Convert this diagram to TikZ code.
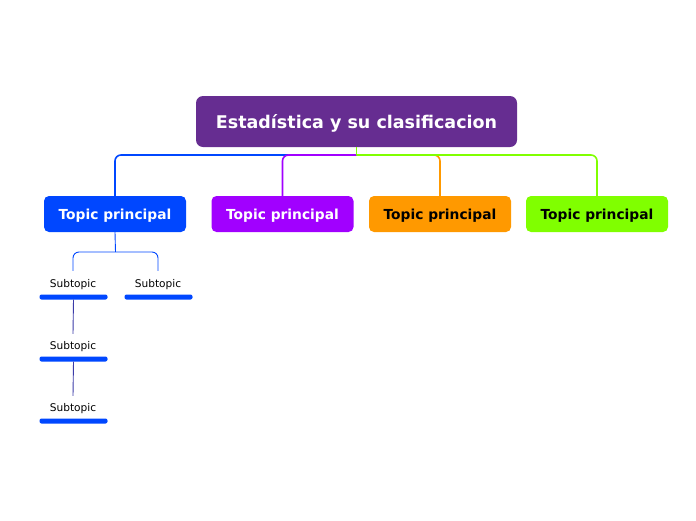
\documentclass[tikz,border=0pt]{standalone}
\usepackage{fontspec}
\setmainfont{DejaVu Sans}
\definecolor{cmain}{HTML}{662D91}
\definecolor{cblue}{HTML}{0047FF}
\definecolor{cpurple}{HTML}{A100FF}
\definecolor{corange}{HTML}{FF9900}
\definecolor{cgreen}{HTML}{80FF00}
\definecolor{cdark}{HTML}{3B3BA8}
\begin{document}
\begin{tikzpicture}[x=1pt,y=-1pt,
  mainbox/.style={draw=none,fill=cmain,rounded corners=7pt,minimum width=321pt,minimum height=51pt,text=white,text depth=1pt,font=\bfseries\fontsize{17.5}{20}\selectfont},
  topicbox/.style={rounded corners=5pt,minimum width=142pt,minimum height=36pt,text depth=0pt,text height=10.5pt,font=\bfseries\fontsize{13.8}{16}\selectfont},
  subtext/.style={font=\fontsize{10.6}{12}\selectfont,inner sep=0pt,minimum height=12pt},
  subbar/.style={fill=cblue,rounded corners=2pt,minimum width=68pt,minimum height=5pt,inner sep=0pt},
  conn/.style={line width=1.6pt,rounded corners=6pt},
  subconn/.style={cblue,line width=0.9pt,rounded corners=6pt},
  darkconn/.style={cdark,line width=0.9pt}]
\useasboundingbox (0,0) rectangle (696,520);
\node[mainbox] (main) at (356.5,121.5) {Estadística y su clasificacion};
\node[topicbox,fill=cblue,text=white] (t1) at (115,214) {Topic principal};
\node[topicbox,fill=cpurple,text=white] (t2) at (282.5,214) {Topic principal};
\node[topicbox,fill=corange,text=black] (t3) at (440,214) {Topic principal};
\node[topicbox,fill=cgreen,text=black] (t4) at (597,214) {Topic principal};
\coordinate (m) at (356.5,155);
\draw[conn,cblue] (m) -| (t1.north);
\draw[conn,cpurple] (m) -| (t2.north);
\draw[conn,corange] (m) -| (t3.north);
\draw[conn,cgreen] (m) -| (t4.north);
\draw[cgreen,line width=1.6pt] (main.south) -- (m);
% subtopics
\node[subtext] (s1) at (73,285) {Subtopic};
\node[subbar] (b1) at (73.5,297) {};
\node[subtext] (s2) at (158,285) {Subtopic};
\node[subbar] (b2) at (158.5,297) {};
\node[subtext] (s3) at (73,347) {Subtopic};
\node[subbar] (b3) at (73.5,359) {};
\node[subtext] (s4) at (73,409) {Subtopic};
\node[subbar] (b4) at (73.5,421) {};
\coordinate (j) at (115.5,252);
\draw[cblue,line width=0.9pt] (t1.south) -- (j);
\draw[subconn] (j) -| ([yshift=8pt]s1.north);
\draw[subconn] (j) -| ([yshift=8pt]s2.north);
\draw[darkconn] (b1.south) -- ([yshift=7pt]s3.north);
\draw[darkconn] (b3.south) -- ([yshift=7pt]s4.north);
\end{tikzpicture}
\end{document}
